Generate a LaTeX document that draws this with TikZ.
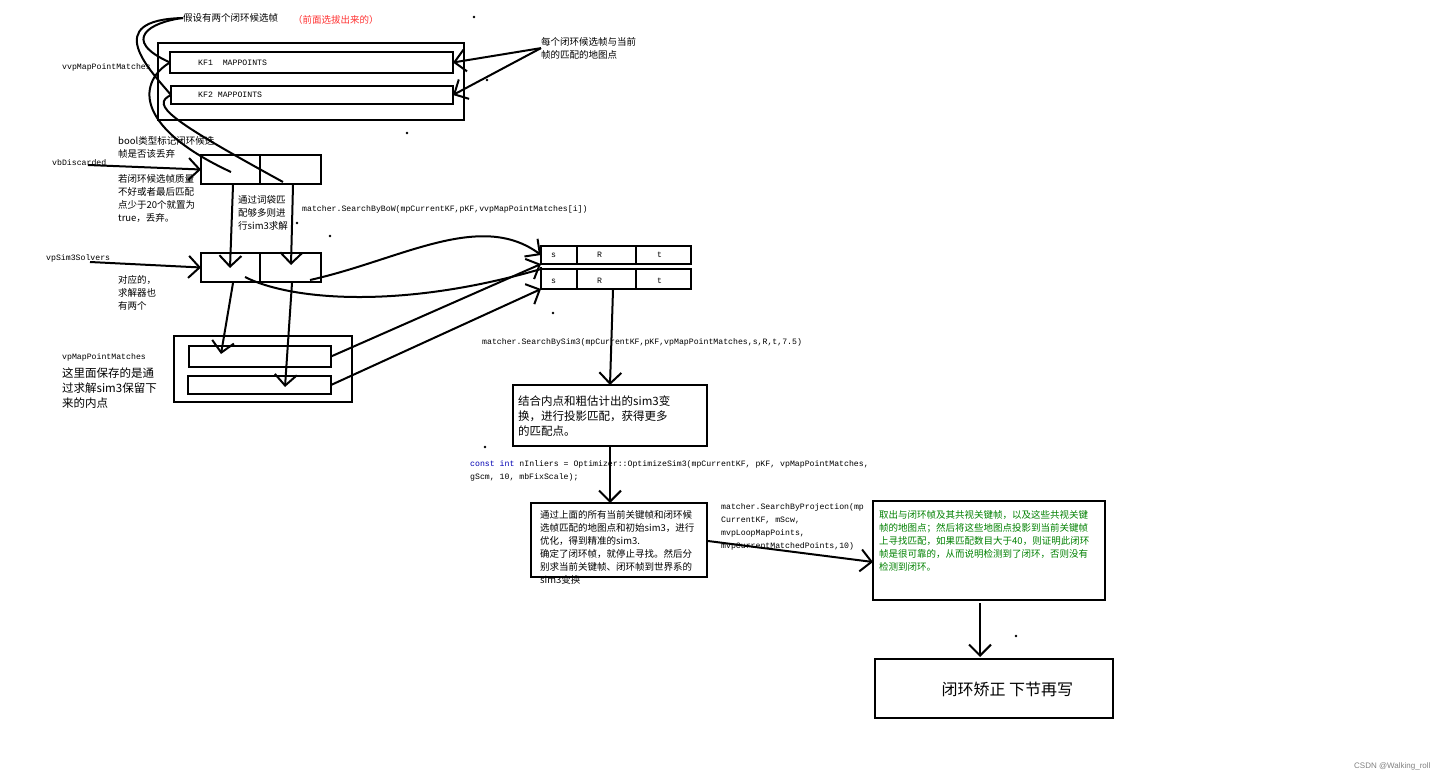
\documentclass[tikz,border=0pt]{standalone}
\usepackage{fontspec}
\setmainfont{Liberation Mono}
\newfontfamily\cjk{Noto Sans CJK SC}
\usetikzlibrary{arrows.meta}
\begin{document}
\begin{tikzpicture}[x=1pt,y=-1pt,
  box/.style={draw,line width=2pt,inner sep=0,outer sep=0},
  arr/.style={line width=2pt,-{Straight Barb[length=11pt,width=22pt,line width=2pt]}},
  ln/.style={line width=2pt},
  code/.style={font=\fontsize{8.2}{13}\selectfont,anchor=west,inner sep=0},
  zh/.style={font=\cjk\fontsize{9.5}{13}\selectfont,anchor=north west,inner sep=0,align=left},
  zhb/.style={font=\cjk\fontsize{11.5}{15}\selectfont,anchor=north west,inner sep=0,align=left}]
\useasboundingbox (0,0) rectangle (1440,776);
\newcommand\bx[5]{\node[box,minimum width=#4pt-#2pt,minimum height=#5pt-#3pt,anchor=north west] (#1) at (#2,#3) {};}
% top
\node[zh,anchor=west] (hyp) at (183,18) {假设有两个闭环候选帧};
\node[zh,anchor=west,text=red!80] (sel) at (293,20) {（前面选拔出来的）};
\bx{outer}{158}{43}{464}{120}
\bx{kf1}{170}{52}{453}{73}
\bx{kf2}{171}{86}{453}{104}
\node[code] (t1) at (198,63) {KF1 \ MAPPOINTS};
\node[code] (t2) at (198,95) {KF2 MAPPOINTS};
\node[code] (vvp) at (62,67) {vvpMapPointMatches};
\node[zh] (each) at (541,37) {每个闭环候选帧与当前\\帧的匹配的地图点};
\draw[arr] (each.west) -- (kf1.east);
\draw[arr] (each.west) -- (kf2.east);
% vbDiscarded
\bx{vbd}{201}{155}{321}{184}
\draw[ln] (260,155) -- (260,184);
\coordinate (vbdL) at (231,172); \coordinate (vbdR) at (283,182);
\node[code] (vbdl) at (52,163) {vbDiscarded};
\draw[arr] (88,165) -- (vbd.west);
\node[zh] (bool) at (118,136) {bool类型标记闭环候选\\帧是否该丢弃};
\node[zh] (ruo) at (118,174) {若闭环候选帧质量\\不好或者最后匹配\\点少于20个就置为\\true，丢弃。};
% loops
\draw[ln] (hyp.west) .. controls (150,22) and (120,40) .. (kf1.west);
\draw[ln] (kf1.west) .. controls (140,80) and (130,125) .. (vbdL);
\draw[ln] (hyp.west) .. controls (100,20) and (150,70) .. (kf2.west);
\draw[ln] (kf2.west) .. controls (150,105) and (170,120) .. (vbdR);
\node[zh] (bow) at (238,195) {通过词袋匹\\配够多则进\\行sim3求解};
\node[code] (bowc) at (302,209) {matcher.SearchByBoW(mpCurrentKF,pKF,vvpMapPointMatches[i])};
% vpSim3Solvers
\bx{vps}{201}{253}{321}{282}
\draw[ln] (260,253) -- (260,282);
\node[code] (vpsl) at (46,258) {vpSim3Solvers};
\draw[arr] (90,262) -- (vps.west);
\coordinate (vbdB1) at (233,185); \coordinate (vbdB2) at (293,185);
\draw[arr] (vbdB1) -- (230,268);
\draw[arr] (vbdB2) -- (291,265);
\node[zh] (dui) at (118,275) {对应的，\\求解器也\\有两个};
% sRt
\bx{srt1}{541}{246}{691}{264}
\bx{srt2}{541}{269}{691}{289}
\foreach \xx in {577,636}{\draw[ln] (\xx,246)--(\xx,264); \draw[ln] (\xx,269)--(\xx,289);}
\foreach \yy/\n in {255/a,281/b}{
 \node[code] (s\n) at (551,\yy) {s}; \node[code] (r\n) at (597,\yy) {R}; \node[code] (t\n) at (657,\yy) {t};}
\coordinate (vpsR) at (310,280); \coordinate (vpsL) at (245,277);
\draw[arr] (vpsR) .. controls (400,260) and (480,210) .. (srt1.west);
\draw[ln] (vpsL) .. controls (290,300) and (400,310) .. (srt2.north west);
\draw[ln] (srt2.north west) -- (541,267);
% vpMapPointMatches
\bx{vpm}{174}{336}{352}{402}
\bx{m1}{189}{346}{331}{367}
\bx{m2}{188}{376}{331}{394}
\node[code] (vpml) at (62,357) {vpMapPointMatches};
\node[zhb] (zl) at (62,368) {这里面保存的是通\\过求解sim3保留下\\来的内点};
\draw[arr] (233,283) -- (221,354);
\draw[arr] (292,283) -- (285,387);
\draw[arr] (m1.east) -- (srt1.south west);
\draw[arr] (m2.east) -- (srt2.south west);
\node[code] (sim3c) at (482,342) {matcher.SearchBySim3(mpCurrentKF,pKF,vpMapPointMatches,s,R,t,7.5)};
% middle boxes
\bx{b1}{513}{385}{707}{446}
\node[zhb] (b1t) at (518,396) {结合内点和粗估计出的sim3变\\换，进行投影匹配，获得更多\\的匹配点。};
\draw[arr] (613,290) -- (b1.north);
\node[code] (opt1) at (470,464) {\textcolor{blue!70!black}{const int} nInliers = Optimizer::OptimizeSim3(mpCurrentKF, pKF, vpMapPointMatches,};
\node[code] (opt2) at (470,477) {gScm, 10, mbFixScale);};
\bx{b2}{531}{503}{707}{577}
\draw[arr] (b1.south) -- (b2.north -| b1.south);
\node[zh] (b2t) at (540,510) {通过上面的所有当前关键帧和闭环候\\选帧匹配的地图点和初始sim3，进行\\优化，得到精准的sim3.\\确定了闭环帧，就停止寻找。然后分\\别求当前关键帧、闭环帧到世界系的\\sim3变换};
\node[code,anchor=north west,align=left] (proj) at (721,503) {matcher.SearchByProjection(mp\\CurrentKF, mScw,\\mvpLoopMapPoints,\\mvpCurrentMatchedPoints,10)};
\bx{b3}{873}{501}{1105}{600}
\node[zh,text=green!50!black] (b3t) at (879,510) {取出与闭环帧及其共视关键帧，以及这些共视关键\\帧的地图点；然后将这些地图点投影到当前关键帧\\上寻找匹配，如果匹配数目大于40，则证明此闭环\\帧是很可靠的，从而说明检测到了闭环，否则没有\\检测到闭环。};
\coordinate (b2e) at (708,541);
\draw[arr] (b2e) -- (873,562);
\bx{b4}{875}{659}{1113}{718}
\node[font=\cjk\fontsize{16}{18}\selectfont,anchor=west] (b4t) at (938,689) {闭环矫正 下节再写};
\draw[arr] (980,603) -- (980,657);
\node[font=\fontspec{Liberation Sans}\fontsize{8}{9}\selectfont,text=gray,anchor=east] (csdn) at (1434,766) {CSDN @Walking\_roll};
\foreach \p in {(474,17),(487,80),(407,133),(330,236),(297,223),(1016,636),(553,313),(485,447)} \fill \p circle (1.3);
\end{tikzpicture}
\end{document}
